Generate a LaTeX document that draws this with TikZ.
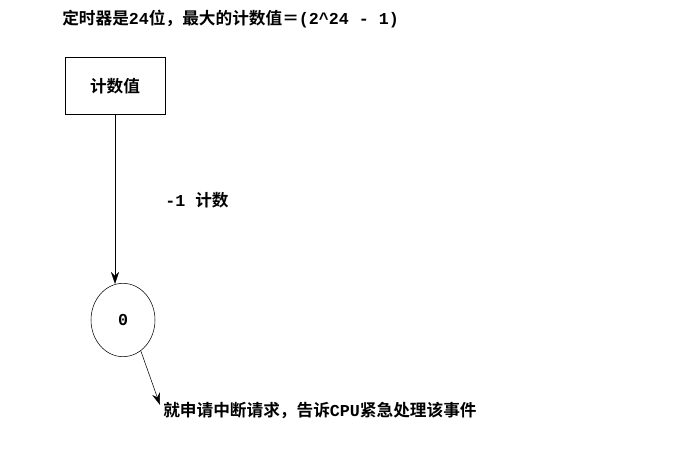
\documentclass[tikz,border=0pt]{standalone}
\usepackage{fontspec}
\setmainfont{Noto Sans CJK SC}[BoldFont={* Bold}]
\newfontfamily\lat{Liberation Mono}
\newcommand{\latw}[1]{{\lat\bfseries #1}}
\usetikzlibrary{arrows.meta,shapes.geometric}
\begin{document}
\begin{tikzpicture}[x=0.75pt,y=-0.75pt,
  lbl/.style={font=\bfseries\fontsize{12.5}{14}\selectfont,inner sep=0pt},
  arr/.style={draw,-{Stealth[length=9pt,width=6pt]}}]
\useasboundingbox[fill=white] (0,0) rectangle (685,474);
\node[lbl,anchor=west] (title) at (62,19) {定时器是\latw{24}位，最大的计数值＝\latw{(2\^{}24 - 1)}};
\node[lbl,draw,minimum width=75pt,minimum height=43pt] (box) at (115,86) {计数值};
\node[lbl,draw,ellipse,minimum width=48pt,minimum height=55pt] (zero) at (123,320) {\latw{0}};
\node[lbl,anchor=west] (cnt) at (165,200) {\latw{-1 }计数};
\node[lbl,anchor=west] (msg) at (163,411) {就申请中断请求，告诉\latw{CPU}紧急处理该事件};
\coordinate (e) at (160,405);
\draw[arr] (box.south) -- (115,284);
\draw[arr] (zero.-60) -- (e);
\end{tikzpicture}
\end{document}
